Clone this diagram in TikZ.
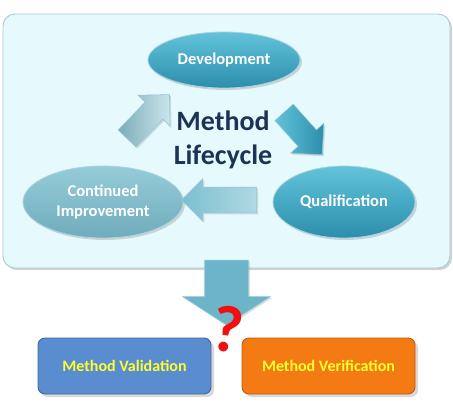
\documentclass[tikz,border=0pt]{standalone}
\usepackage{fontspec}
\setmainfont{Carlito}
\usetikzlibrary{shapes.geometric,shapes.arrows,shadows,positioning}

\definecolor{panelfill}{HTML}{E6F9FD}
\definecolor{panelline}{HTML}{A6CAD6}
\definecolor{stagetop}{HTML}{62C3DA}
\definecolor{stagebot}{HTML}{2C8EAC}
\definecolor{stagepale}{HTML}{7CBFD0}
\definecolor{titlenavy}{HTML}{1B3456}
\definecolor{valblue}{HTML}{5A8DD0}
\definecolor{valline}{HTML}{3B66A6}
\definecolor{verorange}{HTML}{F47A14}
\definecolor{verline}{HTML}{C45A08}
\definecolor{labelyellow}{HTML}{FFFF2E}
\definecolor{qred}{HTML}{F01010}

\begin{document}
\begin{tikzpicture}[x=1pt,y=-1pt]
\tikzset{
  stage/.style={ellipse,draw=white!60!stagebot,line width=0.8pt,inner sep=0pt,align=center,
    text=white,font=\fontsize{16.5}{20}\selectfont\bfseries,
    top color=stagetop,bottom color=stagebot,
    drop shadow={opacity=0.3,shadow xshift=2pt,shadow yshift=-2pt}},
  flowarrow/.style={single arrow,inner xsep=0pt,draw=white!50!stagebot,line width=0.6pt,
    drop shadow={opacity=0.25,shadow xshift=1.5pt,shadow yshift=-1.5pt}},
  outcome/.style={rounded corners=7pt,minimum width=173pt,minimum height=56pt,line width=0.9pt,
    text=labelyellow,font=\fontsize{16}{19}\selectfont\bfseries,
    drop shadow={opacity=0.3,shadow xshift=3pt,shadow yshift=-3pt}}
}
\useasboundingbox (0,0) rectangle (453,402);

% ---------- lifecycle panel ----------
\node[draw=panelline,fill=panelfill,line width=0.9pt,rounded corners=12pt,
  minimum width=447pt,minimum height=254pt,
  drop shadow={opacity=0.35,shadow xshift=2pt,shadow yshift=-2pt}] (panel) at (226.5,141) {};

\node[stage,minimum width=152pt,minimum height=56pt] (dev) at (224,60) {Development};
\node[stage,minimum width=142pt,minimum height=72pt] (qual) at (344,202) {Qualification};
\node[stage,minimum width=160pt,minimum height=72pt,top color=stagepale!80!white,bottom color=stagepale!90!black]
  (improve) at (103,202) {Continued\\Improvement};

\node[text=titlenavy,font=\fontsize{28}{34}\selectfont\bfseries,align=center] (title) at (223,140) {Method\\Lifecycle};

% block arrows round the cycle
\node[flowarrow,rotate=46,minimum height=61pt,inner ysep=12pt,single arrow head extend=10pt,
  left color=gray!30!stagepale,right color=white!60!stagepale] (toDev) at (144,121) {};
\node[flowarrow,rotate=-48,minimum height=57pt,inner ysep=12pt,single arrow head extend=10pt,
  left color=stagetop,right color=stagebot] (toQual) at (299,129) {};
\node[flowarrow,rotate=180,minimum height=75pt,inner ysep=12.5pt,single arrow head extend=8.5pt,
  left color=stagepale,right color=white!40!stagepale] (toImprove) at (225.5,200) {};

% ---------- down to the two outcomes ----------
\node[flowarrow,rotate=-90,minimum height=65pt,inner ysep=21.5pt,single arrow head extend=22pt,
  single arrow tip angle=114,fill=stagepale!80!stagebot] (down) at (226.5,285.5) {};

\node[outcome,draw=valline,fill=valblue] (validation) at (124.5,366) {Method Validation};
\node[outcome,draw=verline,fill=verorange] (verification) at (328.5,366) {Method Verification};

\node[text=qred,font=\fontsize{66}{66}\selectfont\bfseries,rotate=-8,inner sep=0pt] (query) at (228,329) {?};
\end{tikzpicture}
\end{document}
